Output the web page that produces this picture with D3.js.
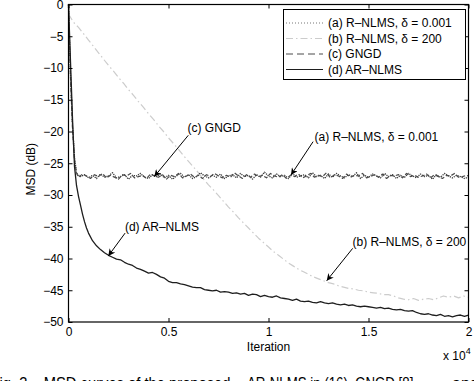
<!DOCTYPE html>
<html><head><meta charset="utf-8">
<script src="https://cdn.jsdelivr.net/npm/d3@7"></script>
<style>
html,body{margin:0;padding:0;background:#fff;}
svg{display:block;}
text{font-family:"Liberation Sans",Arial,Helvetica,sans-serif;}
</style></head>
<body>
<svg id="chart" width="474" height="381"></svg>
<script>
// ---------------- data ----------------
const xTicks = [0, 5000, 10000, 15000, 20000];
const xTickLabels = ["0", "0.5", "1", "1.5", "2"];
const yTicks = [0, -5, -10, -15, -20, -25, -30, -35, -40, -45, -50];

const seriesNames = ["(a) R\u2013NLMS, \u03b4 = 0.001", "(b) R\u2013NLMS, \u03b4 = 200", "(c) GNGD", "(d) AR\u2013NLMS"];

// (a) R-NLMS, delta = 0.001 : fast initial drop then noisy steady state
const aHeadIter = [0, 100, 200, 300];
const aHead = [0, -11, -19, -24];
const aSteadyStart = 400, aSteadyStep = 200;
const aSteady = [-26.6,-27.1,-26.8,-27.3,-26.9,-27.4,-26.7,-27.2,-27.0,-26.5,-27.3,-27.1,-26.8,-27.5,-26.9,-27.0,-26.6,-27.2,-27.4,-26.8,
-27.1,-26.7,-27.3,-26.9,-27.5,-27.0,-26.6,-27.2,-26.8,-27.4,-27.1,-26.5,-27.0,-27.3,-26.9,-27.2,-26.7,-27.4,-27.0,-26.8,
-27.3,-26.6,-27.1,-26.9,-27.5,-26.8,-27.2,-26.4,-27.0,-27.3,-26.7,-27.1,-26.9,-27.4,-26.6,-27.2,-27.0,-26.8,-27.3,-26.5,
-27.1,-26.9,-27.4,-26.7,-27.2,-26.6,-27.0,-27.3,-26.8,-27.1,-26.5,-27.4,-26.9,-27.2,-26.7,-27.0,-27.3,-26.6,-27.1,-26.8,
-27.4,-26.9,-27.2,-26.6,-27.0,-27.3,-26.7,-27.1,-26.9,-27.5,-26.8,-27.2,-26.6,-27.0,-27.3,-26.9,-27.1,-27.4,-27.2];

// (b) R-NLMS, delta = 200 : slow convergence, every 250 iterations
const bStep = 250;
const bValues = [-1.5,-2.8,-3.6,-4.6,-5.6,-6.6,-7.6,-8.6,-9.6,-10.5,-11.5,-12.4,-13.4,-14.3,-15.3,-16.2,-17.2,-18.1,-19.1,-20.0,
-21.0,-21.9,-22.8,-23.8,-24.7,-25.6,-26.5,-27.5,-28.4,-29.2,-30.1,-31.0,-31.9,-32.7,-33.6,-34.4,-35.2,-36.0,-36.8,-37.5,
-38.2,-38.9,-39.5,-40.1,-40.7,-41.2,-41.7,-42.1,-42.5,-42.9,-43.2,-43.5,-43.8,-44.0,-44.3,-44.5,-44.7,-44.8,-45.0,-45.1,
-45.3,-45.4,-45.5,-45.7,-45.7,-45.9,-46.2,-46.4,-46.5,-46.3,-46.6,-46.4,-46.3,-46.5,-46.2,-45.9,-46.1,-45.9,-46.2,-45.9,-46.1];

// (c) GNGD
const cHeadIter = [0, 100, 200, 300, 400];
const cHead = [0, -11.5, -19.5, -24.5, -26.5];
const cSteadyStart = 500, cSteadyStep = 200;
const cSteady = [-27.2,-26.7,-27.0,-27.4,-26.8,-27.1,-26.6,-27.3,-26.9,-27.2,-27.5,-26.8,-27.0,-26.6,-27.3,-27.1,-26.9,-27.4,-26.7,-27.0,
-27.2,-26.8,-27.5,-26.9,-27.1,-26.6,-27.3,-27.0,-26.7,-27.2,-26.9,-27.4,-26.8,-27.1,-26.6,-27.0,-27.3,-26.9,-27.2,-26.5,
-27.0,-27.4,-26.8,-27.2,-26.7,-27.1,-26.9,-27.3,-26.6,-27.0,-27.2,-26.8,-27.4,-26.9,-27.1,-26.7,-27.3,-27.0,-26.6,-27.2,
-26.9,-27.1,-26.5,-27.3,-26.8,-27.0,-27.4,-26.7,-27.2,-26.9,-27.0,-26.6,-27.3,-27.1,-26.8,-27.2,-26.7,-27.4,-26.9,-27.0,
-26.8,-27.3,-26.6,-27.1,-26.9,-27.2,-27.0,-26.7,-27.3,-26.8,-27.1,-27.4,-26.9,-27.0,-26.6,-27.2,-27.1,-26.9];

// (d) AR-NLMS
const dHeadIter = [0, 100, 200, 300, 400, 500, 600, 700, 800, 900, 1000, 1200, 1400, 1600, 1800];
const dHead = [0, -9, -18, -25.5, -28.5, -30.2, -31.6, -33, -34.2, -35.2, -36, -37.2, -38, -38.6, -39.1];
const dTailStart = 2000, dTailStep = 200;
const dTail = [-39.5,-39.8,-40.1,-40.2,-40.6, -40.9,-41.1,-41.5,-41.7,-42.0, -42.3,-42.2,-42.5,-42.9,-43.1,
-43.6,-43.8,-43.8,-44.0,-44.1, -44.3,-44.5,-44.6,-44.6,-44.9, -45.0,-45.1,-45.0,-45.3,-45.2,
-45.3,-45.5,-45.4,-45.6,-45.5, -45.8,-45.6,-45.7,-46.0,-45.8, -46.0,-46.1,-45.9,-46.2,-46.3,
-46.4,-46.6,-46.4,-46.7,-46.8, -46.7,-46.9,-47.0,-46.8,-47.0, -47.1,-47.0,-47.2,-47.3,-47.2,
-47.4,-47.3,-47.5,-47.6,-47.5, -47.6,-47.7,-47.8,-47.7,-47.9, -47.8,-48.0,-48.1,-48.0,-48.2,
-48.3,-48.2,-48.5,-48.7,-48.8, -48.7,-48.9,-49.0,-48.8,-49.1, -49.0,-49.2,-49.0,-48.9,-49.1, -48.9];

// annotations: text anchor & arrow (tail/head) in data units [iteration, dB]
const annTexts = ["(c) GNGD", "(a) R\u2013NLMS, \u03b4 = 0.001", "(d) AR\u2013NLMS", "(b) R\u2013NLMS, \u03b4 = 200"];
const annTextAt = [[5950, -20.1], [12300, -21.5], [2820, -35.7], [14200, -38.0]];
const annTail = [[5990, -20.6], [12230, -21.6], [2830, -36.0], [14210, -38.4]];
const annHead = [[4290, -27.1], [11125, -26.85], [1990, -39.6], [12910, -43.5]];

const captionParts = ["Fig. 3.   MSD curves of the proposed", "AR-NLMS in (16), GNGD [8],", "and"];

// ---------------- build ----------------
const svg = d3.select("#chart");
const L = 68.5, R = 468.5, T = 4.5, B = 322;
const x = d3.scaleLinear().domain([0, 20000]).range([L, R]);
const y = d3.scaleLinear().domain([-50, 0]).range([B, T]);

const join = (it, v) => it.map((d, i) => [d, v[i]]);
const aData = join(aHeadIter, aHead).concat(aSteady.map((v, i) => [aSteadyStart + i * aSteadyStep, v]));
const bData = bValues.map((v, i) => [i * bStep, v]);
const cData = join(cHeadIter, cHead).concat(cSteady.map((v, i) => [cSteadyStart + i * cSteadyStep, v]), [[20000, -27.0]]);
const dData = join(dHeadIter, dHead).concat(dTail.map((v, i) => [dTailStart + i * dTailStep, v]));

const line = d3.line().x(d => x(d[0])).y(d => y(d[1]));

svg.append("rect").attr("width", 474).attr("height", 381).attr("fill", "#fff");

const styles = [
  {data: aData, stroke: "#3a3a3a", width: 1.3, dash: "1.2,1"},
  {data: bData, stroke: "#cccccc", width: 1.2, dash: "7,3,1.5,3"},
  {data: cData, stroke: "#4a4a4a", width: 1.2, dash: "4,2"},
  {data: dData, stroke: "#1e1e1e", width: 1.3, dash: null}
];
const g = svg.append("g");
[1, 0, 2, 3].forEach(i => {
  const s = styles[i];
  g.append("path").datum(s.data).attr("d", line)
    .attr("fill", "none").attr("stroke", s.stroke).attr("stroke-width", s.width)
    .attr("stroke-dasharray", s.dash).attr("stroke-linejoin", "round");
});

// axes
const fmtX = d => xTickLabels[xTicks.indexOf(d)];
const fmtY = d => d === 0 ? "0" : "\u2212" + Math.abs(d);
const axB = svg.append("g").attr("transform", `translate(0,${B})`)
  .call(d3.axisBottom(x).tickValues(xTicks).tickFormat(fmtX).tickSizeInner(-4).tickSizeOuter(0).tickPadding(5));
const axL = svg.append("g").attr("transform", `translate(${L},0)`)
  .call(d3.axisLeft(y).tickValues(yTicks).tickFormat(fmtY).tickSizeInner(-4).tickSizeOuter(0).tickPadding(5));
const axT = svg.append("g").attr("transform", `translate(0,${T})`)
  .call(d3.axisTop(x).tickValues(xTicks).tickFormat("").tickSizeInner(-4).tickSizeOuter(0));
const axR = svg.append("g").attr("transform", `translate(${R},0)`)
  .call(d3.axisRight(y).tickValues(yTicks).tickFormat("").tickSizeInner(-4).tickSizeOuter(0));
[axB, axL, axT, axR].forEach(a => {
  a.select(".domain").remove();
  a.selectAll("text").attr("font-size", 12).attr("fill", "#000")
    .attr("font-family", '"Liberation Sans",Arial,sans-serif');
  a.selectAll("line").attr("stroke", "#000");
});
svg.append("rect").attr("x", L).attr("y", T).attr("width", R - L).attr("height", B - T)
  .attr("fill", "none").attr("stroke", "#000").attr("stroke-width", 1.2);

// axis labels
svg.append("text").attr("x", (L + R) / 2).attr("y", 351).attr("text-anchor", "middle")
  .attr("font-size", 12).text("Iteration");
const ex = svg.append("text").attr("x", 443).attr("y", 360).attr("font-size", 12);
ex.append("tspan").text("x 10");
ex.append("tspan").attr("dy", -6).attr("font-size", 9).text("4");
svg.append("text").attr("transform", `translate(35,${(T + B) / 2 + 6}) rotate(-90)`)
  .attr("text-anchor", "middle").attr("font-size", 12).text("MSD (dB)");

// annotations
const defs = svg.append("defs");
defs.append("marker").attr("id", "ah").attr("viewBox", "0 0 10 10").attr("refX", 10).attr("refY", 5)
  .attr("markerWidth", 9).attr("markerHeight", 7).attr("markerUnits", "userSpaceOnUse").attr("orient", "auto")
  .append("path").attr("d", "M0,0 L10,5 L0,10 L3,5 Z").attr("fill", "#000");
annTexts.forEach((t, i) => {
  svg.append("text").attr("x", x(annTextAt[i][0])).attr("y", y(annTextAt[i][1]))
    .attr("font-size", 12).text(t);
  svg.append("line").attr("x1", x(annTail[i][0])).attr("y1", y(annTail[i][1]))
    .attr("x2", x(annHead[i][0])).attr("y2", y(annHead[i][1]))
    .attr("stroke", "#000").attr("stroke-width", 1).attr("marker-end", "url(#ah)");
});

// legend
const lg = svg.append("g");
lg.append("rect").attr("x", 283.5).attr("y", 9.5).attr("width", 182).attr("height", 70)
  .attr("fill", "#fff").attr("stroke", "#000").attr("stroke-width", 1);
const rowY = [23, 38.5, 54, 69.5];
seriesNames.forEach((n, i) => {
  const s = styles[i];
  lg.append("line").attr("x1", 286).attr("x2", 323).attr("y1", rowY[i]).attr("y2", rowY[i])
    .attr("stroke", i === 0 ? "#777" : s.stroke).attr("stroke-width", 1)
    .attr("stroke-dasharray", i === 2 ? "7,4" : (i === 0 ? "1,2" : s.dash));
  lg.append("text").attr("x", 328).attr("y", rowY[i] + 4.3).attr("font-size", 12).text(n);
});

// caption (cut at bottom of image, as in the source figure)
const capFont = '"Liberation Serif","Times New Roman",serif';
const capY = 388.5;
svg.append("text").attr("x", -9.5).attr("y", capY).attr("font-size", 16)
  .attr("font-family", capFont).attr("textLength", 240).attr("lengthAdjust", "spacingAndGlyphs")
  .style("white-space", "pre").text(captionParts[0]);
svg.append("text").attr("x", 247).attr("y", capY).attr("font-size", 16)
  .attr("font-family", capFont).attr("textLength", 170).attr("lengthAdjust", "spacingAndGlyphs")
  .text(captionParts[1]);
svg.append("text").attr("x", 452).attr("y", capY).attr("font-size", 16)
  .attr("font-family", capFont).text(captionParts[2]);
</script>
</body></html>
